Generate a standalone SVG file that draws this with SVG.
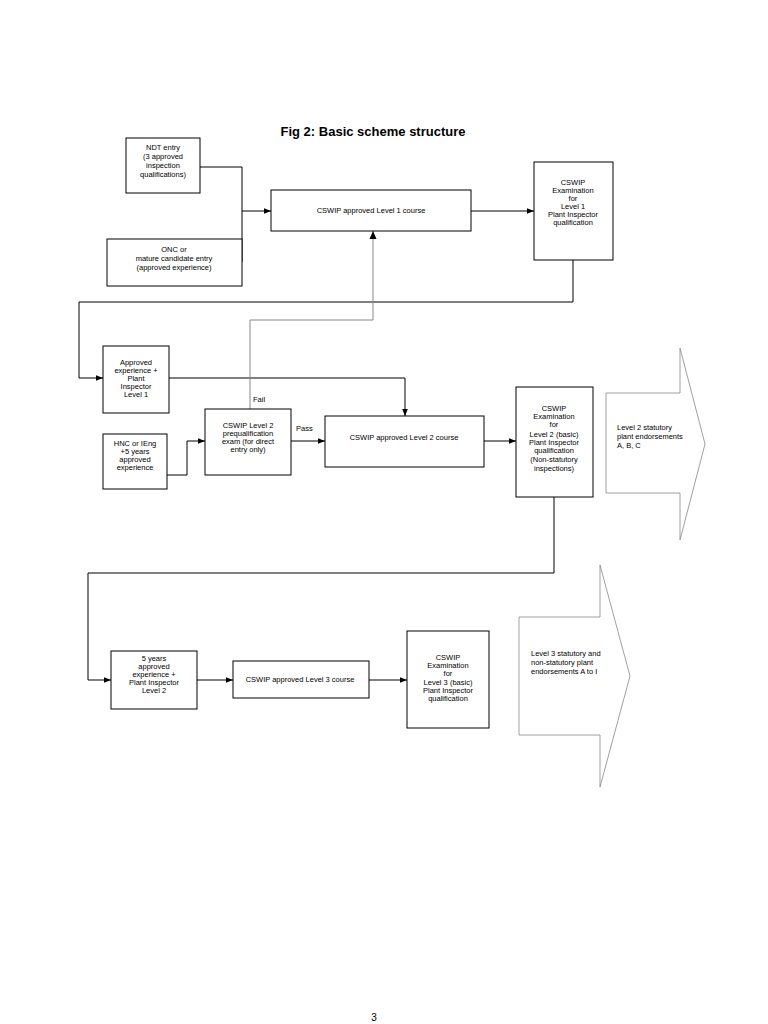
<svg xmlns="http://www.w3.org/2000/svg" width="768" height="1024" viewBox="0 0 768 1024">
<style>
.b{fill:#fff;stroke:#000;stroke-width:1}
.t{font-family:"Liberation Sans",Arial,sans-serif;font-size:7.5px;fill:#000;text-anchor:middle}
.l{text-anchor:start}
.c{fill:none;stroke:#000;stroke-width:1}
.g{fill:none;stroke:#888;stroke-width:1}
.ar{fill:#fff;stroke:#888;stroke-width:0.8}
</style>
<defs><marker id="a" viewBox="0 0 10 10" refX="10" refY="5" markerWidth="7" markerHeight="7" orient="auto"><path d="M0,1 L10,5 L0,9z" fill="#000"/></marker></defs>
<rect width="768" height="1024" fill="#fff"/>
<text x="373" y="136" font-family="Liberation Sans,Arial,sans-serif" font-size="13" font-weight="bold" text-anchor="middle">Fig 2: Basic scheme structure</text>
<g id="connectors">
<polyline class="c" points="200,167 242,167 242,262 242,262"/>
<line class="c" x1="242" y1="262" x2="242" y2="262"/>
<polyline class="c" points="242,262 242,262"/>
<line class="c" x1="242" y1="211" x2="271" y2="211" marker-end="url(#a)"/>
<line class="c" x1="471" y1="211" x2="534" y2="211" marker-end="url(#a)"/>
<polyline class="c" points="573,260 573,302 79,302 79,378 103,378" marker-end="url(#a)"/>
<polyline class="c" points="169,378 405,378 405,416" marker-end="url(#a)"/>
<polyline class="g" points="250,409 250,320 373,320 373,231"/>
<path d="M369.5,239 L373,231 L376.5,239z" fill="#000"/>
<polyline class="c" points="167,475 187,475 187,441 205,441" marker-end="url(#a)"/>
<line class="c" x1="291" y1="441" x2="325" y2="441" marker-end="url(#a)"/>
<line class="c" x1="484" y1="441" x2="516" y2="441" marker-end="url(#a)"/>
<polyline class="c" points="554,497 554,573 88,573 88,680 111,680" marker-end="url(#a)"/>
<line class="c" x1="197" y1="680" x2="233" y2="680" marker-end="url(#a)"/>
<line class="c" x1="369" y1="680" x2="407" y2="680" marker-end="url(#a)"/>
<text class="t l" x="253" y="402">Fail</text>
<text class="t l" x="296" y="431">Pass</text>
</g>
<g id="ndt"><rect class="b" x="126" y="138" width="74" height="55"/>
<text class="t" x="163" y="150">NDT entry</text><text class="t" x="163" y="159">(3 approved</text><text class="t" x="163" y="168">inspection</text><text class="t" x="163" y="177">qualifications)</text></g>
<g id="onc"><rect class="b" x="107" y="239" width="135" height="47"/>
<text class="t" x="174" y="252">ONC or</text><text class="t" x="174" y="261">mature candidate entry</text><text class="t" x="174" y="270">(approved experience)</text></g>
<g id="l1course"><rect class="b" x="271" y="190" width="200" height="41"/>
<text class="t" x="371" y="213" font-size="8.5">CSWIP approved Level 1 course</text></g>
<g id="l1exam"><rect class="b" x="534" y="162" width="79" height="98"/>
<text class="t" x="573" y="185">CSWIP</text><text class="t" x="573" y="193">Examination</text><text class="t" x="573" y="201">for</text><text class="t" x="573" y="209">Level 1</text><text class="t" x="573" y="217">Plant Inspector</text><text class="t" x="573" y="225">qualification</text></g>
<g id="appexp"><rect class="b" x="103" y="346" width="66" height="67"/>
<text class="t" x="136" y="365">Approved</text><text class="t" x="136" y="373">experience +</text><text class="t" x="136" y="381">Plant</text><text class="t" x="136" y="389">Inspector</text><text class="t" x="136" y="397">Level 1</text></g>
<g id="hnc"><rect class="b" x="103" y="434" width="64" height="55"/>
<text class="t" x="135" y="446">HNC or IEng</text><text class="t" x="135" y="454">+5 years</text><text class="t" x="135" y="462">approved</text><text class="t" x="135" y="470">experience</text></g>
<g id="prequal"><rect class="b" x="205" y="409" width="86" height="66"/>
<text class="t" x="248" y="428">CSWIP Level 2</text><text class="t" x="248" y="436">prequalification</text><text class="t" x="248" y="444">exam (for direct</text><text class="t" x="248" y="452">entry only)</text></g>
<g id="l2course"><rect class="b" x="325" y="416" width="159" height="51"/>
<text class="t" x="404" y="440">CSWIP approved Level 2 course</text></g>
<g id="l2exam"><rect class="b" x="516" y="387" width="77" height="110"/>
<text class="t" x="554" y="411">CSWIP</text><text class="t" x="554" y="419">Examination</text><text class="t" x="554" y="427">for</text><text class="t" x="554" y="437">Level 2 (basic)</text><text class="t" x="554" y="445">Plant Inspector</text><text class="t" x="554" y="453">qualification</text><text class="t" x="554" y="462">(Non-statutory</text><text class="t" x="554" y="471">inspections)</text></g>
<g id="l2end"><polygon class="ar" points="606,393 680,393 680,348 705,444 680,540 680,493 606,493"/>
<text class="t l" x="617" y="430">Level  2  statutory</text><text class="t l" x="617" y="439">plant endorsements</text><text class="t l" x="617" y="448">A, B, C</text></g>
<g id="l3in"><rect class="b" x="111" y="651" width="86" height="58"/>
<text class="t" x="154" y="661">5 years</text><text class="t" x="154" y="669">approved</text><text class="t" x="154" y="677">experience +</text><text class="t" x="154" y="685">Plant Inspector</text><text class="t" x="154" y="693">Level 2</text></g>
<g id="l3course"><rect class="b" x="233" y="661" width="136" height="37"/>
<text class="t" x="300" y="682">CSWIP approved Level 3 course</text></g>
<g id="l3exam"><rect class="b" x="407" y="631" width="82" height="97"/>
<text class="t" x="448" y="660">CSWIP</text><text class="t" x="448" y="668">Examination</text><text class="t" x="448" y="676">for</text><text class="t" x="448" y="685">Level 3 (basic)</text><text class="t" x="448" y="693">Plant Inspector</text><text class="t" x="448" y="701">qualification</text></g>
<g id="l3end"><polygon class="ar" points="519,617 600,617 600,565 630,676 600,787 600,735 519,735"/>
<text class="t l" x="531" y="656">Level 3  statutory  and</text><text class="t l" x="531" y="665">non-statutory      plant</text><text class="t l" x="531" y="674">endorsements A to I</text></g>
<text x="374" y="1021" font-family="Liberation Sans,Arial,sans-serif" font-size="10" text-anchor="middle">3</text>
</svg>
